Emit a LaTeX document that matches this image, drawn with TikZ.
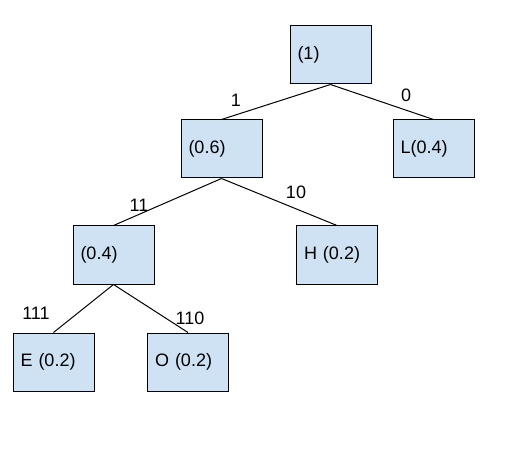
\documentclass[tikz,border=0pt]{standalone}
\usepackage{fontspec}
\setmainfont{Liberation Sans}
\definecolor{boxfill}{HTML}{CFE2F3}
\begin{document}
\begin{tikzpicture}[x=0.75pt,y=-0.75pt,
  box/.style={draw=black,fill=boxfill,line width=0.75pt,minimum height=43.5pt,
    text width=49.5pt,inner xsep=5.625pt,align=left,font=\fontsize{13.5pt}{15pt}\selectfont},
  edge/.style={draw=black,line width=0.75pt},
  lbl/.style={inner sep=0pt,font=\fontsize{13.5pt}{15pt}\selectfont}]
\useasboundingbox[fill=white] (0,0) rectangle (520,466);
\node[box] (root) at (330.5,55) {(1)};
\node[box] (n06) at (221.5,149) {(0.6)};
\node[box] (L) at (433.5,149) {L(0.4)};
\node[box] (n04) at (113.5,255) {(0.4)};
\node[box] (H) at (337,255) {H (0.2)};
\node[box] (E) at (53.5,362) {E (0.2)};
\node[box] (O) at (188,362) {O (0.2)};
\draw[edge] (root.south) -- (n06.north);
\draw[edge] (root.south) -- (L.north);
\draw[edge] (n06.south) -- (n04.north);
\draw[edge] (n06.south) -- (H.north);
\draw[edge] (n04.south) -- (E.north);
\draw[edge] (n04.south) -- (O.north);
\node[lbl] (l1) at (236,100) {1};
\node[lbl] (l0) at (406,95) {0};
\node[lbl] (l11) at (139,205) {11};
\node[lbl] (l10) at (296,192) {10};
\node[lbl] (l111) at (36,313) {111};
\node[lbl] (l110) at (190,318) {110};
\end{tikzpicture}
\end{document}
